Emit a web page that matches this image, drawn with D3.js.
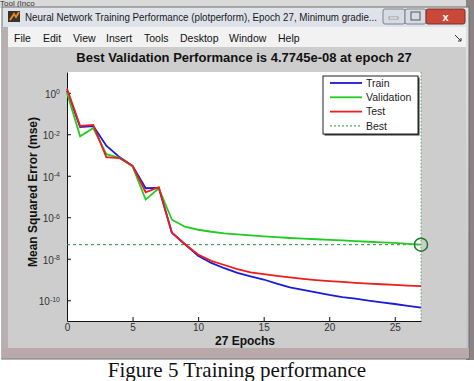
<!DOCTYPE html>
<html>
<head>
<meta charset="utf-8">
<script src="https://cdn.jsdelivr.net/npm/d3@7.9.0/dist/d3.min.js"></script>
<style>
  body { margin: 0; background: #fff; }
  svg { display: block; font-family: Arial, "Liberation Sans", sans-serif; }
</style>
</head>
<body>
<svg id="chart" width="474" height="381"></svg>
<script>
// epochs and mse values
const epochs = d3.range(0, 28);
const train = [1.26, 2.2e-2, 2.5e-2, 2.8e-3, 7.9e-4, 3.0e-4, 2.5e-5, 2.6e-5, 1.8e-7, 5.0e-8,
  1.4e-8, 6.3e-9, 3.5e-9, 2.1e-9, 1.4e-9, 1.0e-9, 6.3e-10, 4.2e-10, 3.2e-10, 2.4e-10,
  1.8e-10, 1.4e-10, 1.2e-10, 9.5e-11, 7.9e-11, 6.6e-11, 5.4e-11, 4.4e-11];
const validation = [1.0, 7.9e-3, 2.0e-2, 1.1e-3, 7.4e-4, 2.8e-4, 7.1e-6, 2.5e-5, 7.6e-7, 3.5e-7,
  2.5e-7, 2.0e-7, 1.66e-7, 1.48e-7, 1.35e-7, 1.2e-7, 1.1e-7, 1.0e-7, 9.3e-8, 8.7e-8,
  8.1e-8, 7.6e-8, 7.1e-8, 6.6e-8, 6.2e-8, 5.8e-8, 5.2e-8, 4.7745e-8];
const test = [1.58, 2.5e-2, 2.8e-2, 7.9e-4, 7.1e-4, 3.0e-4, 1.6e-5, 2.8e-5, 1.8e-7, 5.0e-8,
  1.6e-8, 7.9e-9, 5.0e-9, 3.2e-9, 2.2e-9, 1.8e-9, 1.5e-9, 1.26e-9, 1.07e-9, 9.3e-10,
  8.3e-10, 7.6e-10, 6.9e-10, 6.3e-10, 5.9e-10, 5.5e-10, 5.1e-10, 4.8e-10];
const bestEpoch = 27;
const bestValue = 4.7745e-8;
const xTicks = [0, 5, 10, 15, 20, 25];
const yTicks = [1e0, 1e-2, 1e-4, 1e-6, 1e-8, 1e-10];
const menuItems = ["File", "Edit", "View", "Insert", "Tools", "Desktop", "Window", "Help"];

const svg = d3.select("#chart");

// ---- window chrome ----
svg.append("rect").attr("x", 0).attr("y", 0).attr("width", 474).attr("height", 381).attr("fill", "#fff");
svg.append("rect").attr("x", 0).attr("y", 0).attr("width", 474).attr("height", 8).attr("fill", "#d9d9d9");
svg.append("text").attr("x", 0).attr("y", 6).attr("font-size", 8).attr("fill", "#333").text("Tool (Inco");
svg.append("rect").attr("x", 466).attr("y", 0).attr("width", 8).attr("height", 360).attr("fill", "#8c8484");

let grad = svg.append("defs").append("linearGradient").attr("id", "tb").attr("x1", 0).attr("y1", 0).attr("x2", 0).attr("y2", 1);
grad.append("stop").attr("offset", 0).attr("stop-color", "#dfe4ea");
grad.append("stop").attr("offset", 1).attr("stop-color", "#bcc5cf");

svg.append("rect").attr("x", 2).attr("y", 7).attr("width", 467).attr("height", 352)
  .attr("fill", "url(#tb)").attr("stroke", "#6e6a6a");
// bottom/left frame tint
svg.append("rect").attr("x", 2).attr("y", 348).attr("width", 467).attr("height", 10).attr("fill", "#b9a9a9");
svg.append("rect").attr("x", 2).attr("y", 27).attr("width", 6).attr("height", 322).attr("fill", "#b8b0b0");

// title bar
svg.append("rect").attr("x", 8).attr("y", 11).attr("width", 12).attr("height", 11).attr("fill", "#3a3230");
svg.append("path").attr("d", "M10,20 L14,14 L16,17 L19,12").attr("fill", "none").attr("stroke", "#e08a20").attr("stroke-width", 2);
svg.append("text").attr("x", 25).attr("y", 20.5).attr("font-size", 10).attr("fill", "#1a1a1a")
  .attr("textLength", 352).attr("lengthAdjust", "spacingAndGlyphs")
  .text("Neural Network Training Performance (plotperform), Epoch 27, Minimum gradie...");
svg.append("rect").attr("x", 383).attr("y", 9).attr("width", 22).attr("height", 15).attr("rx", 2).attr("fill", "#d6dce4").attr("stroke", "#7a828c");
svg.append("rect").attr("x", 389).attr("y", 17).attr("width", 9).attr("height", 2).attr("fill", "#fff").attr("stroke", "#555").attr("stroke-width", 0.5);
svg.append("rect").attr("x", 405).attr("y", 9).attr("width", 21).attr("height", 15).attr("rx", 2).attr("fill", "#d6dce4").attr("stroke", "#7a828c");
svg.append("rect").attr("x", 411).attr("y", 12).attr("width", 9).attr("height", 8).attr("fill", "none").attr("stroke", "#555");
svg.append("rect").attr("x", 426).attr("y", 9).attr("width", 39).attr("height", 15).attr("rx", 2).attr("fill", "#c9483a").attr("stroke", "#7a3028");
svg.append("text").attr("x", 445.5).attr("y", 21).attr("text-anchor", "middle").attr("font-size", 11)
  .attr("font-weight", "bold").attr("fill", "#fff").text("x");

// menu bar
svg.append("rect").attr("x", 8).attr("y", 27).attr("width", 458).attr("height", 20).attr("fill", "#f2f2f2");
const menuX = [14, 43, 73, 106, 144, 180, 229, 278];
svg.append("g").selectAll("text").data(menuItems).join("text")
  .attr("x", (d, i) => menuX[i]).attr("y", 42).attr("font-size", 10.5).attr("fill", "#111").text(d => d);
svg.append("path").attr("d", "M455,35 L461,41 M458,41 L461,41 L461,38").attr("stroke", "#333").attr("fill", "none");

// figure background
svg.append("rect").attr("x", 8).attr("y", 47).attr("width", 458).attr("height", 301).attr("fill", "#cdcdcd");

// ---- chart ----
const x = d3.scaleLinear().domain([0, 27]).range([67, 421]);
const y = d3.scaleLog().domain([1e-11, 1e1]).range([321, 72]);

svg.append("rect").attr("x", 67).attr("y", 72).attr("width", 354).attr("height", 249).attr("fill", "#fff");

svg.append("text").attr("x", 244).attr("y", 62).attr("text-anchor", "middle")
  .attr("font-size", 13).attr("font-weight", "bold").attr("fill", "#111")
  .text("Best Validation Performance is 4.7745e-08 at epoch 27");

const xAxis = svg.append("g").attr("transform", "translate(0,321)")
  .call(d3.axisBottom(x).tickValues(xTicks).tickSize(-4).tickPadding(3).tickSizeOuter(0));
xAxis.selectAll("text").attr("font-size", 10).attr("fill", "#333");

const yAxis = svg.append("g").attr("transform", "translate(67,0)")
  .call(d3.axisLeft(y).tickValues(yTicks).tickSize(-4).tickPadding(7).tickSizeOuter(0).tickFormat(""));
yAxis.selectAll(".tick").append("text")
  .attr("x", -7).attr("dy", "0.45em").attr("text-anchor", "end").attr("fill", "#333").attr("font-size", 10)
  .each(function (d) {
    let t = d3.select(this);
    t.append("tspan").text("10");
    t.append("tspan").attr("dy", "-0.5em").attr("font-size", 7).text(Math.round(Math.log10(d)));
  });
svg.selectAll(".domain").attr("stroke", "#111");
svg.selectAll(".tick line").attr("stroke", "#111");

svg.append("text").attr("transform", "translate(37,192) rotate(-90)").attr("text-anchor", "middle")
  .attr("font-size", 12).attr("font-weight", "bold").attr("fill", "#111").text("Mean Squared Error  (mse)");
svg.append("text").attr("x", 245).attr("y", 345).attr("text-anchor", "middle")
  .attr("font-size", 12).attr("font-weight", "bold").attr("fill", "#111").text("27 Epochs");

// best markers
svg.append("line").attr("x1", x(0)).attr("x2", x(27)).attr("y1", y(bestValue)).attr("y2", y(bestValue))
  .attr("stroke", "#2e8b3e").attr("stroke-dasharray", "3,3");
svg.append("line").attr("x1", x(bestEpoch)).attr("x2", x(bestEpoch)).attr("y1", 72).attr("y2", 321)
  .attr("stroke", "#5aa865").attr("stroke-dasharray", "1.5,2");

const line = d3.line().x((d, i) => x(epochs[i])).y(d => y(d));
const series = [
  { name: "Train", values: train, color: "#1a1ad8" },
  { name: "Validation", values: validation, color: "#1fcc1f" },
  { name: "Test", values: test, color: "#ee1c1c" }
];
svg.append("g").selectAll("path").data(series).join("path")
  .attr("d", d => line(d.values)).attr("fill", "none").attr("stroke", d => d.color).attr("stroke-width", 1.8);

svg.append("circle").attr("cx", x(bestEpoch)).attr("cy", y(bestValue)).attr("r", 6.5)
  .attr("fill", "none").attr("stroke", "#1b7a2a").attr("stroke-width", 1.5);

// legend
const lg = svg.append("g").attr("transform", "translate(323,76)");
lg.append("rect").attr("x", 1.5).attr("y", 1.5).attr("width", 95).attr("height", 58).attr("fill", "#333");
lg.append("rect").attr("width", 95).attr("height", 58).attr("fill", "#fff").attr("stroke", "#222");
const legendItems = series.map(s => ({ name: s.name, color: s.color, dash: null }))
  .concat([{ name: "Best", color: "#2e8b3e", dash: "2,2" }]);
const li = lg.selectAll("g").data(legendItems).join("g")
  .attr("transform", (d, i) => `translate(0,${7 + i * 14.3})`);
li.append("line").attr("x1", 7).attr("x2", 39).attr("stroke", d => d.color)
  .attr("stroke-width", d => d.dash ? 1 : 1.8).attr("stroke-dasharray", d => d.dash);
li.append("text").attr("x", 43).attr("dy", "0.35em").attr("font-size", 10.5).attr("fill", "#222").text(d => d.name);

// caption
svg.append("text").attr("x", 237).attr("y", 377).attr("text-anchor", "middle")
  .attr("font-family", "'Liberation Serif', 'Times New Roman', serif").attr("font-size", 21).attr("fill", "#111")
  .text("Figure 5 Training performance");
</script>
</body>
</html>
